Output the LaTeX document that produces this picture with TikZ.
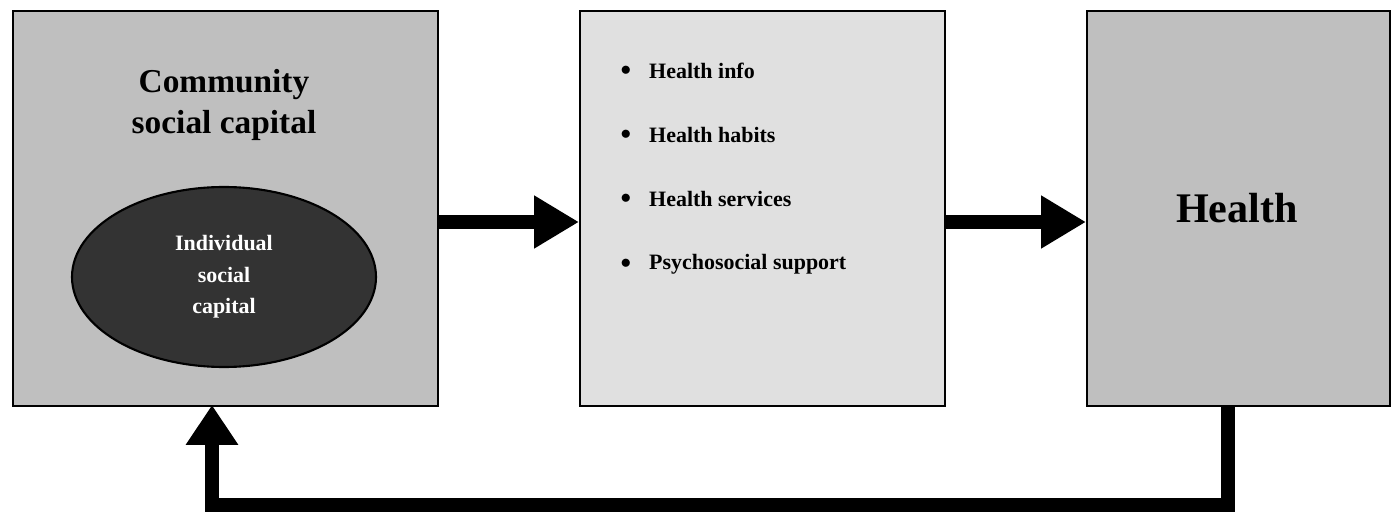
\documentclass[tikz,border=0pt]{standalone}
\usepackage{fontspec}
\setmainfont{Liberation Serif}
\usetikzlibrary{arrows.meta,shapes.geometric}
\begin{document}
\begin{tikzpicture}[x=0.02cm,y=-0.02cm,
  box/.style={draw=black,line width=1.2pt,anchor=north west,inner sep=0},
  big/.style={line width=0.28cm,-{Triangle[length=0.9cm,width=1cm]}},
  lab/.style={font=\bfseries,align=left,anchor=west}]
\useasboundingbox (0,0) rectangle (1400,520);
\node[box,fill=black!25,minimum width=425*0.02cm,minimum height=395*0.02cm] (L) at (12,10) {};
\node[box,fill=black!12,minimum width=365*0.02cm,minimum height=395*0.02cm] (M) at (579,10) {};
\node[box,fill=black!25,minimum width=303*0.02cm,minimum height=395*0.02cm] (R) at (1086,10) {};
\node[font=\fontsize{19}{23}\selectfont\bfseries,align=center] (t1) at (224,105) {Community\\social capital};
\node[ellipse,draw=black,line width=1.2pt,fill=black!80,minimum width=304*0.02cm,minimum height=180*0.02cm,text=white,font=\fontsize{12.5}{18}\selectfont\bfseries,align=center] (E) at (224,277) {Individual\\social\\capital};
\node[font=\fontsize{24}{28}\selectfont\bfseries] (h) at (1237,208) {Health};
\foreach \y/\t/\n in {71/Health info/a,135/Health habits/b,199/Health services/c,264/Psychosocial support/d}{
  \node[font=\fontsize{12.5}{15}\selectfont] (bul\n) at (626,\y) {$\bullet$};
  \node[lab,font=\fontsize{12.5}{15}\selectfont\bfseries] (i\n) at (643,\y) {\t};
}
\draw[big] (L.east |- 0,222) -- (M.west |- 0,222);
\draw[big] (M.east |- 0,222) -- (R.west |- 0,222);
\coordinate (c1) at (1228,505);
\coordinate (c2) at (212,505);
\draw[line width=0.28cm,-{Triangle[length=0.8cm,width=1cm]},line join=miter] (1228,405) -- (c1) -- (c2) -- (212,405);
\end{tikzpicture}
\end{document}
